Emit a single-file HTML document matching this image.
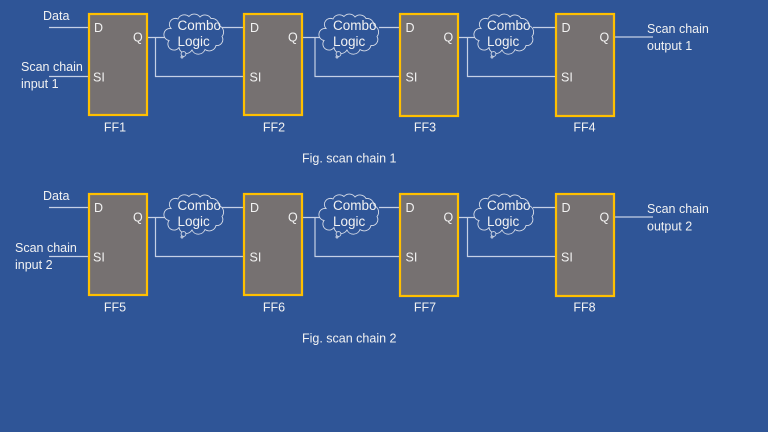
<!DOCTYPE html>
<html><head><meta charset="utf-8"><style>
html,body{margin:0;padding:0;background:#2F5597;}
svg{display:block;}
text{font-family:"Liberation Sans",Arial,sans-serif;font-size:12.5px;fill:#F2F2F2;}
.cb{font-size:13.5px;}
.w{stroke:#C5D0E6;stroke-width:1.2;fill:none;}
.ff{fill:#767171;stroke:#FFC000;stroke-width:2.2;}
.cl{fill:#2F5597;stroke:#D6DCE8;stroke-width:0.9;}
</style></head><body>
<svg width="768" height="432" viewBox="0 0 768 432" xmlns="http://www.w3.org/2000/svg">
<defs>
<g id="cloud">
<path class="cl" d="M5,13 A6,6 0 0 1 12,3.5 A7,7 0 0 1 23,1 A7,7 0 0 1 34,1.5 A7,7 0 0 1 45,3 A7,7 0 0 1 53,10 A7,7 0 0 1 56,21 A6,6 0 0 1 50,30 A7,7 0 0 1 39,34 A7,7 0 0 1 26,34.5 A7,7 0 0 1 13,32 A6,6 0 0 1 3,25 A6,6 0 0 1 5,13 Z"/>
<circle class="cl" cx="17.5" cy="38.5" r="2.4"/>
<circle class="cl" cx="16" cy="41.5" r="1"/>
</g>
<g id="chain">
<line class="w" x1="49" y1="27.5" x2="88" y2="27.5"/>
<line class="w" x1="49" y1="76.5" x2="88" y2="76.5"/>
<polyline class="w" points="148,37.5 169,37.5"/>
<polyline class="w" points="155.5,37.5 155.5,76.5 243,76.5"/>
<line class="w" x1="222" y1="27.5" x2="243" y2="27.5"/>
<polyline class="w" points="303,37.5 323,37.5"/>
<polyline class="w" points="315,37.5 315,76.5 399,76.5"/>
<line class="w" x1="379" y1="27.5" x2="399" y2="27.5"/>
<polyline class="w" points="459,37.5 478,37.5"/>
<polyline class="w" points="467.5,37.5 467.5,76.5 555,76.5"/>
<line class="w" x1="533" y1="27.5" x2="555" y2="27.5"/>
<line class="w" x1="615" y1="37" x2="653" y2="37"/>
<rect class="ff" x="89" y="14" width="58" height="101"/>
<rect class="ff" x="244" y="14" width="58" height="101"/>
<rect class="ff" x="400" y="14" width="58" height="102"/>
<rect class="ff" x="556" y="14" width="58" height="102"/>
<use href="#cloud" x="166" y="15.5"/>
<use href="#cloud" x="321" y="15.5"/>
<use href="#cloud" x="476" y="15.5"/>
<text x="43" y="20">Data</text>
<text x="94" y="32">D</text><text x="133" y="41.5">Q</text><text x="93" y="81.5">SI</text>
<text x="250" y="32">D</text><text x="288" y="41.5">Q</text><text x="249.5" y="81.5">SI</text>
<text x="405.5" y="32">D</text><text x="443.5" y="41.5">Q</text><text x="405.5" y="81.5">SI</text>
<text x="561.5" y="32">D</text><text x="599.5" y="41.5">Q</text><text x="561" y="81.5">SI</text>
<text class="cb" x="177.5" y="30">Combo</text><text class="cb" x="177.5" y="46">Logic</text>
<text class="cb" x="333" y="30">Combo</text><text class="cb" x="333" y="46">Logic</text>
<text class="cb" x="487" y="30">Combo</text><text class="cb" x="487" y="46">Logic</text>
<text x="647" y="33">Scan chain</text>
</g>
</defs>
<use href="#chain" x="0" y="0"/>
<use href="#chain" x="0" y="180"/>
<text x="21" y="71">Scan chain</text>
<text x="21" y="88">input 1</text>
<text x="647" y="50">output 1</text>
<text x="115" y="131.5" text-anchor="middle">FF1</text>
<text x="274" y="131.5" text-anchor="middle">FF2</text>
<text x="425" y="131.5" text-anchor="middle">FF3</text>
<text x="584.5" y="131.5" text-anchor="middle">FF4</text>
<text x="302" y="162.5">Fig. scan chain 1</text>
<text x="15" y="252">Scan chain</text>
<text x="15" y="269">input 2</text>
<text x="647" y="230.5">output 2</text>
<text x="115" y="311.5" text-anchor="middle">FF5</text>
<text x="274" y="311.5" text-anchor="middle">FF6</text>
<text x="425" y="311.5" text-anchor="middle">FF7</text>
<text x="584.5" y="311.5" text-anchor="middle">FF8</text>
<text x="302" y="342.5">Fig. scan chain 2</text>
</svg>
</body></html>
